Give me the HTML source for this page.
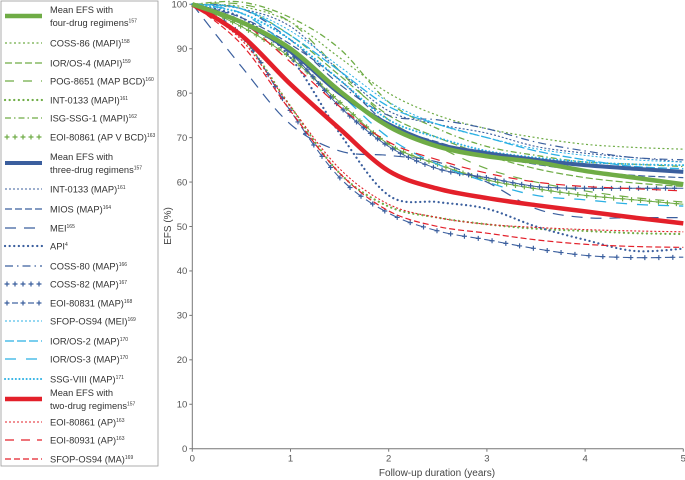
<!DOCTYPE html>
<html><head><meta charset="utf-8"><style>
body{margin:0;background:#fff;}
svg{display:block;font-family:"Liberation Sans",sans-serif;}
</style></head><body>
<svg id="c" width="685" height="480">
<rect x="1" y="1" width="157" height="465" fill="#fff" stroke="#999" stroke-width="0.8"/>
<g id="legend"></g>
<g id="axes"></g>
<g id="plot"></g>
</svg>
<script>
const years = [0,0.5,1,1.5,2,2.5,3,3.5,4,4.5,5];
const xTicks = [0,1,2,3,4,5];
const yTicks = [0,10,20,30,40,50,60,70,80,90,100];
const names = ["Mean EFS with four-drug regimens","COSS-86 (MAPI)","IOR/OS-4 (MAPI)","POG-8651 (MAP BCD)","INT-0133 (MAPI)","ISG-SSG-1 (MAPI)","EOI-80861 (AP V BCD)","Mean EFS with three-drug regimens","INT-0133 (MAP)","MIOS (MAP)","MEI","API","COSS-80 (MAP)","COSS-82 (MAP)","EOI-80831 (MAP)","SFOP-OS94 (MEI)","IOR/OS-2 (MAP)","IOR/OS-3 (MAP)","SSG-VIII (MAP)","Mean EFS with two-drug regimens","EOI-80861 (AP)","EOI-80931 (AP)","SFOP-OS94 (MA)"];
const refs = ["157","158","159","160","161","162","163","157","161","164","165","4","166","167","168","169","170","170","171","157","163","163","169"];
const s0 = [100,96,90,80.5,72.5,68,65.8,64.5,62.5,61,59.5];
const s1 = [100,99.5,96,88,80,75,72,70,68.5,67.8,67.4];
const s2 = [100,99,93,84,75,70,66,63,61,59.8,59];
const s3 = [100,100,96,85,74,68,63,60,58,56.5,55.5];
const s4 = [100,92.7,77,62,54.5,52,50.5,49.5,49,48.5,48.3];
const s5 = [100,100.5,97,90,78,72,68,66,64.5,64,63.5];
const s6 = [100,95,88,78,68.5,64,60.5,58.5,57,56,55];
const s7 = [100,96,89.5,80,73,68.5,66.5,65,63.8,63,62.3];
const s8 = [100,99,95,85,76,73,71,68,66.5,65.5,64.5];
const s9 = [100,97,91,83,73,69,66,64,62.5,61.5,61];
const s10 = [100,86,73,67,66,64.5,60,54,52,52,52];
const s11 = [100,97,88,71,57,55.5,54,50,47,44.5,45];
const s12 = [100,99,92,82,75,74,72,69,67,65.5,65];
const s13 = [100,96,89,77,68,63,61,59,58.6,58.6,58.6];
const s14 = [100,93,76,61,53,49,47,45,43.5,43,43.1];
const s15 = [100,99,94,86,78,73,70,67.5,66,65,64.5];
const s16 = [100,99,93,85,77,73,70,67,65,63.5,63];
const s17 = [100,98,90,80,70,64,60,57,56,55,54.6];
const s18 = [100,98,92,83,74,70,67,65.5,64.5,64,63.8];
const s19 = [100,93,82,72,62.5,58.5,56.4,54.8,53.4,52,50.7];
const s20 = [100,92,77,63,55,52,50.5,49.8,49.3,49,48.8];
const s21 = [100,96,87,77,69,65,62,60,59,58.5,58];
const s22 = [100,91,76,62,53.5,50,48.5,47,46,45.5,45.3];
const series = [s0,s1,s2,s3,s4,s5,s6,s7,s8,s9,s10,s11,s12,s13,s14,s15,s16,s17,s18,s19,s20,s21,s22];

const G="#6fac46",B="#3b5f9e",L="#2bb0e4",R="#e3202a";
const st=[[G,4.5,"",0],[G,1.2,"2 2.5",0],[G,1.2,"7 3",0],[G,1.2,"9 9",0],[G,2.2,"0.1 4.5",0],[G,1.3,"6 3 1.5 3",0],[G,1,"",1],
[B,4,"",0],[B,1.1,"2 2",0],[B,1.2,"7 3",0],[B,1.2,"11 8",0],[B,2.2,"0.1 4.5",0],[B,1.2,"8 4 1.5 4",0],[B,1,"",1],[B,1.1,"8 6",2],
[L,1,"2 2",0],[L,1.3,"9 3",0],[L,1.3,"11 10",0],[L,2,"0.1 3.5",0],
[R,4.5,"",0],[R,1.1,"2 2",0],[R,1.2,"9 7",0],[R,1.2,"6 3",0]];

const X0=192.3,X1=683.3,Y0=448.7,Y1=4.3;
const xs=v=>X0+(v/5)*(X1-X0);
const ys=v=>Y0-(v/100)*(Y0-Y1);
const NS="http://www.w3.org/2000/svg";
function mk(tag,attrs,parent){const e=document.createElementNS(NS,tag);for(const k in attrs)e.setAttribute(k,attrs[k]);parent.appendChild(e);return e;}

const axes=document.getElementById('axes');
const ax=mk('line',{x1:X0,y1:Y1,x2:X0,y2:Y0,stroke:"#777","stroke-width":1},axes);


const bx=mk('line',{x1:X0,y1:Y0,x2:X1,y2:Y0,stroke:"#777","stroke-width":1},axes);


yTicks.forEach(t=>{
  const l=mk('line',{x1:X0-3,x2:X0,y1:ys(t),y2:ys(t),stroke:"#777"},axes);
  
  
  const tx=mk('text',{x:X0-5,y:ys(t)+3.3,"text-anchor":"end","font-size":"9.5",fill:"#555"},axes);
  tx.textContent=t;
  
  
});
xTicks.forEach(t=>{
  const l=mk('line',{x1:xs(t),x2:xs(t),y1:Y0,y2:Y0+3,stroke:"#777"},axes);
  
  
  const tx=mk('text',{x:xs(t),y:Y0+13,"text-anchor":"middle","font-size":"9.5",fill:"#555"},axes);
  tx.textContent=t;
  
  
});
const xt=mk('text',{x:437,y:476,"text-anchor":"middle","font-size":"10",fill:"#444"},axes);
xt.textContent="Follow-up duration (years)";


const yt=mk('text',{x:0,y:0,transform:"translate(171,226) rotate(-90)","text-anchor":"middle","font-size":"10",fill:"#444"},axes);
yt.textContent="EFS (%)";



function pathD(vals){
  const p=vals.map((v,i)=>[xs(years[i]),ys(v)]);
  let d=`M${p[0][0]},${p[0][1]}`;
  for(let i=0;i<p.length-1;i++){
    const a=p[Math.max(i-1,0)],b=p[i],c=p[i+1],e=p[Math.min(i+2,p.length-1)];
    const c1=[b[0]+(c[0]-a[0])/6,b[1]+(c[1]-a[1])/6],c2=[c[0]-(e[0]-b[0])/6,c[1]-(e[1]-b[1])/6];
    d+=` C${c1[0]},${c1[1]} ${c2[0]},${c2[1]} ${c[0]},${c[1]}`;
  }
  return d;
}
const plot=document.getElementById('plot');
const order=[1,2,3,4,5,6,8,9,10,11,12,13,14,15,16,17,18,20,21,22,19,7,0];
order.forEach(i=>{
  const [c,w,da,pl]=st[i];
  const p=mk('path',{d:pathD(series[i]),fill:"none",stroke:c,"stroke-width":w,"stroke-dasharray":da,"stroke-linecap":da.startsWith("0.1")?"round":"butt"},plot);
  
  
  if(pl){
    const Lt=p.getTotalLength();
    for(let s=8;s<Lt;s+=(pl==2?14:9)){
      const q=p.getPointAtLength(s);
      const m=mk('path',{d:`M${q.x-2.5},${q.y}h5M${q.x},${q.y-2.5}v5`,stroke:c,"stroke-width":1.2},plot);
      
      
    }
  }
});

const leg=document.getElementById('legend');
const rowY=[16,43,63,81,100,118,137,163,189,209,228,246,266,284,303,321,341,359,379,399,422,440,459];
names.forEach((n,i)=>{
  const [c,w,da,pl]=st[i];
  const y=rowY[i];
  const g=mk('g',{},leg);
  
  
  const ln=mk('line',{x1:5,x2:42,y1:y,y2:y,stroke:c,"stroke-width":w,"stroke-dasharray":pl?"":da,"stroke-linecap":da.startsWith("0.1")?"round":"butt"},g);
  if(pl){ln.setAttribute('stroke-width',0);
    for(let k=0;k<5;k++){const x=7+k*8;
      if(pl==2&&k%2)mk('line',{x1:x-3,x2:x+3,y1:y,y2:y,stroke:c,"stroke-width":1.2},g);
      else mk('path',{d:`M${x-2.5},${y}h5M${x},${y-2.5}v5`,stroke:c,"stroke-width":1.2},g);}
  }
  if(n.startsWith("Mean")){
    const t1=mk('text',{x:50,y:y-3,"font-size":"9.3",fill:"#333"},g);t1.textContent="Mean EFS with";
    const t2=mk('text',{x:50,y:y+10,"font-size":"9.3",fill:"#333"},g);
    t2.textContent=n.replace("Mean EFS with ","");
    const sp=mk('tspan',{"font-size":"5","dy":"-3.5"},t2);sp.textContent=refs[i];
  } else {
    const t=mk('text',{x:50,y:y+3.5,"font-size":"9.3",fill:"#333"},g);t.textContent=n;
    const sp=mk('tspan',{"font-size":"5","dy":"-3.5"},t);sp.textContent=refs[i];
  }
});
</script>
</body></html>
